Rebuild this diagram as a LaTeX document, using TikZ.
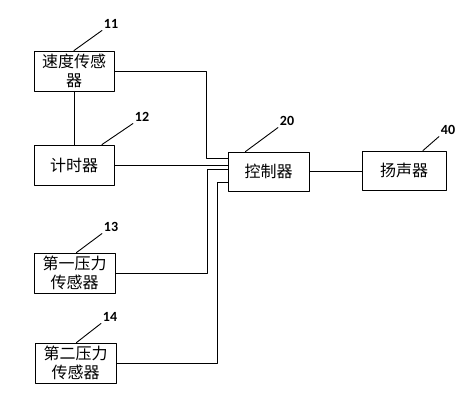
\documentclass[tikz,border=0pt]{standalone}
\usepackage{fontspec}
\setmainfont{Carlito}
\newfontfamily\cjk{Noto Sans CJK SC}
\begin{document}
\begin{tikzpicture}[x=1pt, y=-1pt, line join=round, line cap=round, line width=0.9pt,
	box/.style={draw, rectangle, minimum width=80pt, minimum height=40pt, align=center, inner sep=1pt, font=\cjk\fontsize{16}{19}\selectfont},
	num/.style={font=\fontsize{14}{16}\selectfont\bfseries, inner sep=1.5pt}]
	\useasboundingbox (0,0) rectangle (474,406);
	% Khối
	\node[box] (speed) at (74,71) {速度传感\\器};
	\node[box] (timer) at (74,165) {计时器};
	\node[box, minimum width=81pt] (press1) at (74.5,273) {第一压力\\传感器};
	\node[box, minimum width=81pt] (press2) at (75.5,363) {第二压力\\传感器};
	\node[box, minimum width=81pt, minimum height=39pt] (ctrl) at (268.5,171.5) {控制器};
	\node[box, minimum width=84pt, minimum height=39pt] (spk) at (404,170.5) {扬声器};
	% Dây nối
	\coordinate (j1) at (206,158);
	\coordinate (j3) at (207,169);
	\coordinate (j4) at (217,182);
	\draw (speed) -- (timer);
	\draw (speed.east) -| (j1) -- (j1 -| ctrl.west);
	\draw (timer.east) -- (timer.east -| ctrl.west);
	\draw (press1.east) -| (j3) -- (j3 -| ctrl.west);
	\draw (press2.east) -| (j4) -- (j4 -| ctrl.west);
	\draw (ctrl.east) -- (ctrl.east -| spk.west);
	% Số hiệu
	\node[num] (l11) at (111,24) {11};
	\node[num] (l12) at (142,117) {12};
	\node[num] (l13) at (111,227) {13};
	\node[num] (l14) at (110,317) {14};
	\node[num] (l20) at (287,121) {20};
	\node[num] (l40) at (448,130) {40};
	\draw (speed.north) -- (l11.south west);
	\draw ([xshift=28pt]timer.north) -- (l12.south west);
	\draw ([xshift=2pt]press1.north) -- (l13.south west);
	\draw ([xshift=1pt]press2.north) -- (l14.south west);
	\draw ([xshift=-23pt]ctrl.north) -- (l20.south west);
	\draw ([xshift=19pt]spk.north) -- (l40.south west);
\end{tikzpicture}
\end{document}
